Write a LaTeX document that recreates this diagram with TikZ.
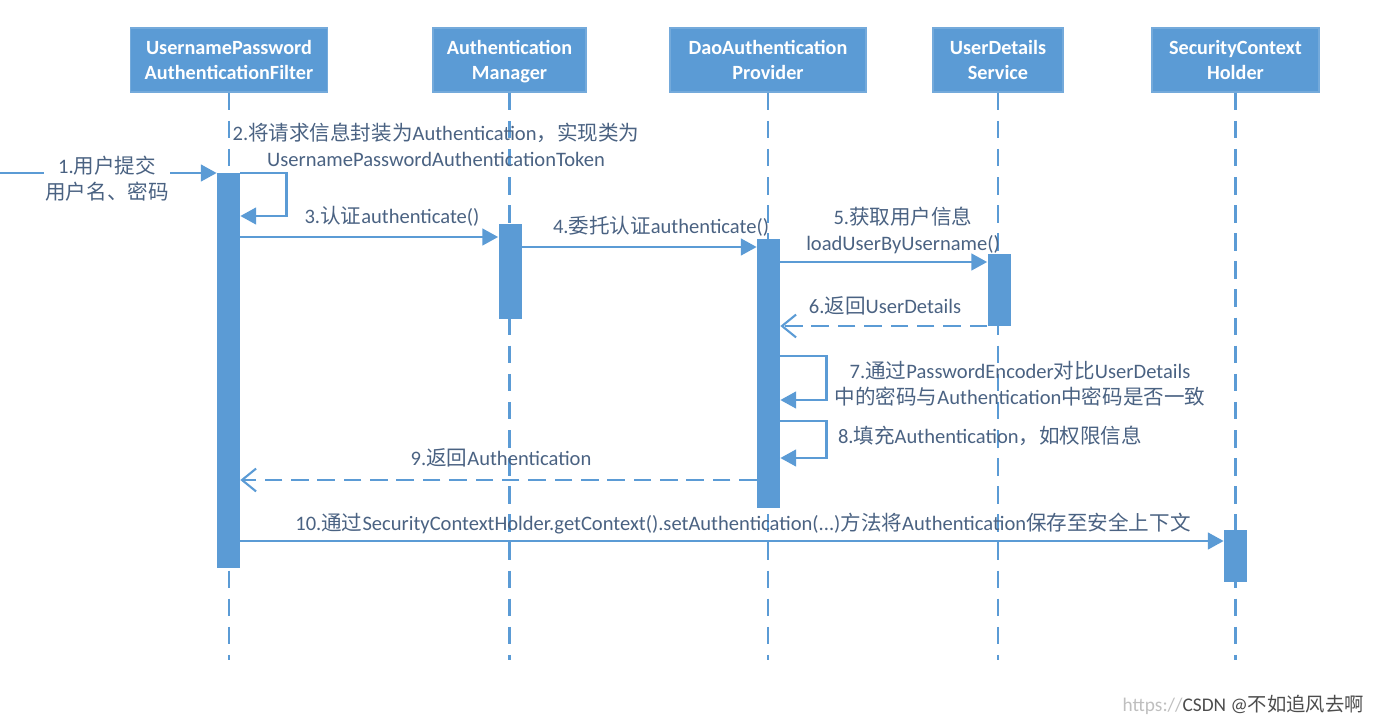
\documentclass[tikz,border=0pt]{standalone}
\usepackage{fontspec}
\setmainfont{Carlito}
\newfontfamily\cjk{Noto Sans CJK SC}
\newcommand{\zh}[1]{{\cjk #1}}
\usetikzlibrary{arrows.meta,positioning}
\definecolor{boxblue}{HTML}{5B9BD5}
\definecolor{textgray}{HTML}{4A6282}

\begin{document}
\begin{tikzpicture}[x=0.02cm,y=-0.02cm,
	head/.style={fill=boxblue,draw=boxblue!85!white,line width=0.8pt,text=white,
		minimum height=1.28cm,align=center,inner sep=0pt,text depth=0pt,
		font=\fontsize{11.5}{14.2}\selectfont\bfseries},
	bar/.style={fill=boxblue,draw=none,minimum width=0.46cm,inner sep=0pt},
	life/.style={boxblue,line width=1.2pt,dash pattern=on 10pt off 6pt},
	msg/.style={boxblue,line width=1.4pt,-{Triangle[length=9pt,width=9.5pt]}},
	ret/.style={boxblue,line width=1.4pt,dash pattern=on 10pt off 5pt,
		-{Straight Barb[length=8pt,width=13pt,line width=1.2pt]}},
	msgtext/.style={text=textgray,align=center,inner sep=1pt,
		font=\fontsize{11.7}{14.7}\selectfont}]
	\useasboundingbox (0,0) rectangle (1384,724);

	% heads
	\node[head,minimum width=3.94cm] (h1) at (229,60) {UsernamePassword\\AuthenticationFilter};
	\node[head,minimum width=3.06cm] (h2) at (509.5,60) {Authentication\\Manager};
	\node[head,minimum width=3.92cm] (h3) at (768,60) {DaoAuthentication\\Provider};
	\node[head,minimum width=2.6cm] (h4) at (998,60) {UserDetails\\Service};
	\node[head,minimum width=3.34cm] (h5) at (1235.5,60) {SecurityContext\\Holder};

	% lifelines
	\foreach \n in {1,...,5}{
		\draw[life] (h\n.south) -- (h\n.south |- 0,660);
	}

	% activations
	\node[bar,minimum height=7.9cm] (b1) at (228.5,370.5) {};
	\node[bar,minimum height=1.9cm] (b2) at (510,271.5) {};
	\node[bar,minimum height=5.38cm] (b3) at (768.5,373.5) {};
	\node[bar,minimum height=1.44cm] (b4) at (999,290) {};
	\node[bar,minimum height=1.04cm] (b5) at (1235.5,556) {};

	% 1
	\coordinate (user) at (0,173);
	\draw[msg] (user) -- (b1.west |- user);
	\node[msgtext,fill=white] (t1) at (107,178.5) {1.\zh{用户提交}\\\zh{用户名、密码}};

	% 2
	\draw[msg] (b1.east |- 0,173) -- ++(46,0) |- (b1.east |- 0,216);
	\node[msgtext] (t2) at (436,145) {2.\zh{将请求信息封装为}Authentication\zh{，实现类为}\\UsernamePasswordAuthenticationToken};

	% 3
	\draw[msg] (b1.east |- 0,237) -- (b2.west |- 0,237);
	\node[msgtext] (t3) at (392,216) {3.\zh{认证}authenticate()};

	% 4
	\draw[msg] (b2.east |- 0,247) -- (b3.west |- 0,247);
	\node[msgtext] (t4) at (661,226) {4.\zh{委托认证}authenticate()};

	% 5
	\draw[msg] (b3.east |- 0,262) -- (b4.west |- 0,262);
	\node[msgtext] (t5) at (903,230.5) {5.\zh{获取用户信息}\\loadUserByUsername()};

	% 6
	\draw[ret] (b4.west |- 0,326) -- (b3.east |- 0,326);
	\node[msgtext] (t6) at (885,306) {6.\zh{返回}UserDetails};

	% 7
	\draw[msg] (b3.east |- 0,356) -- ++(46,0) |- (b3.east |- 0,400);
	\node[msgtext] (t7) at (1020,384) {7.\zh{通过}PasswordEncoder\zh{对比}UserDetails\\\zh{中的密码与}Authentication\zh{中密码是否一致}};

	% 8
	\draw[msg] (b3.east |- 0,421) -- ++(46,0) |- (b3.east |- 0,458);
	\node[msgtext] (t8) at (990,436) {8.\zh{填充}Authentication\zh{，如权限信息}};

	% 9
	\draw[ret] (b3.west |- 0,480) -- (b1.east |- 0,480);
	\node[msgtext] (t9) at (501,458) {9.\zh{返回}Authentication};

	% 10
	\draw[msg] (b1.east |- 0,541) -- (b5.west |- 0,541);
	\node[msgtext] (t10) at (743,524) {10.\zh{通过}SecurityContextHolder.getContext().setAuthentication(...)\zh{方法将}Authentication\zh{保存至安全上下文}};

	% watermark
	\node[anchor=east,text=black!70,font=\fontsize{11}{13}\selectfont] (wm) at (1370,705) {{\color{black!25}https://}CSDN @\zh{不如追风去啊}};
\end{tikzpicture}
\end{document}
